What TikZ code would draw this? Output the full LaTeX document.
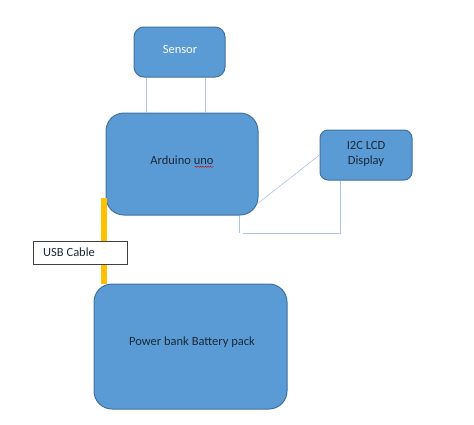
\documentclass[tikz,border=0pt]{standalone}
\usepackage{fontspec}
\setmainfont{Carlito}
\usetikzlibrary{decorations.pathmorphing}
\definecolor{boxfill}{HTML}{5B9BD5}
\definecolor{boxline}{HTML}{41719C}
\definecolor{wire}{HTML}{A9C4E8}
\definecolor{usb}{HTML}{FFC000}
\definecolor{txt}{HTML}{1A2A3A}
\begin{document}
\begin{tikzpicture}[x=1pt,y=-1pt,
  blk/.style={draw=boxline,fill=boxfill,line width=1pt,inner sep=0pt},
  lbl/.style={inner sep=0pt,font=\fontsize{12.5}{15}\selectfont,text=txt,align=center},
  wireline/.style={draw=wire,line width=0.9pt}]
\useasboundingbox (0,0) rectangle (474,424);
\node[blk,rounded corners=10pt,minimum width=91pt,minimum height=50pt] (sensor) at (179.5,52) {};
\node[lbl,text=white] (sensortxt) at (180,49) {Sensor};
\node[blk,rounded corners=18pt,minimum width=152pt,minimum height=102pt] (ard) at (182,164) {};
\node[lbl] (ardtxt) at (182,160) {Arduino uno};
\node[blk,rounded corners=8pt,minimum width=92pt,minimum height=50pt] (lcd) at (366,155) {};
\node[lbl] (lcdtxt) at (366,153.5) {I2C LCD\\Display};
\node[blk,rounded corners=18pt,minimum width=193pt,minimum height=125pt] (pwr) at (190.5,346.5) {};
\node[lbl] (pwrtxt) at (192,342) {Power bank Battery pack};
% spell-check squiggle
\draw[red!80!black,line width=0.4pt,decorate,decoration={snake,amplitude=0.6pt,segment length=2.5pt}] (ardtxt.base east) ++(-19,2.5) -- ++(19,0);
% sensor wires
\draw[wireline] ([xshift=13pt]sensor.south west) -- ([xshift=13pt]sensor.south west |- ard.north);
\draw[wireline] ([xshift=-20pt]sensor.south east) -- ([xshift=-20pt]sensor.south east |- ard.north);
% LCD wires
\coordinate (a1) at (257,204);
\draw[wireline,line width=0.6pt] (a1) -- (lcd.west);
\coordinate (c1) at (239,233);
\coordinate (c2) at (243,233);
\coordinate (c3) at (340,233);
\draw[wireline] (ard.south -| c1) -- (c1);
\draw[wireline] (c2) -- (c3) -- (lcd.south -| c3);
% USB cable
\coordinate (u1) at (104,198);
\draw[usb,line width=6.5pt] (u1) -- (u1 |- pwr.north);
\node[draw=black!75,fill=white,line width=0.8pt,minimum width=94pt,minimum height=23pt,inner sep=0pt,anchor=west] (usbl) at (33,252.5) {};
\node[lbl,anchor=west] (usbtxt) at (43,252) {USB Cable};
\end{tikzpicture}
\end{document}
